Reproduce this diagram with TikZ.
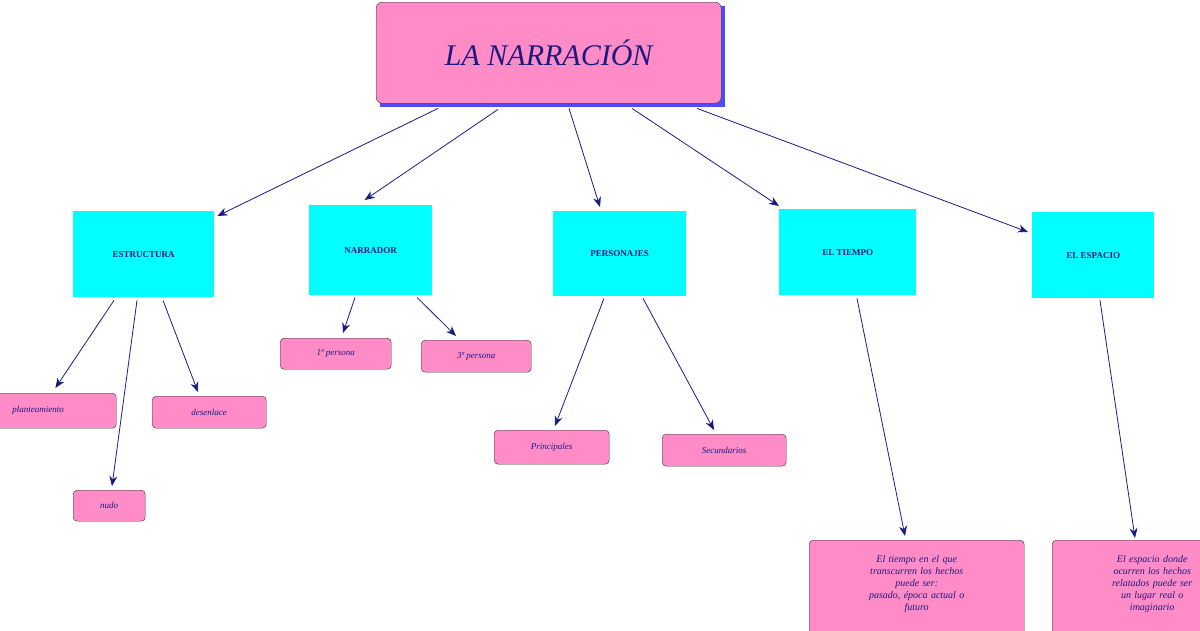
\documentclass[tikz,border=0pt]{standalone}
\usepackage{fontspec}
\setmainfont{Liberation Serif}
\usetikzlibrary{arrows.meta,calc,shadows}
\definecolor{pk}{HTML}{FF8CC6}
\definecolor{cy}{HTML}{00FFFF}
\definecolor{nv}{HTML}{1A1A80}
\tikzset{
  hdr/.style={fill=cy,text=nv,font=\bfseries\small,inner sep=0pt},
  leaf/.style={fill=pk,draw=black!80,rounded corners=4pt,text=nv,font=\itshape\small,inner sep=0pt},
  con/.style={draw=nv,thick,-{Stealth[length=10pt,width=8pt]}},
}
\begin{document}
\begin{tikzpicture}[x=1pt,y=-1pt]
\useasboundingbox (0,0) rectangle (1200,630);
\clip (0,0) rectangle (1200,630);
\fill[blue!70] (380,6) rectangle (725,107);
\node[leaf,font=\itshape\fontsize{30}{34}\selectfont,minimum width=345,minimum height=101,anchor=north west,rounded corners=6pt] (main) at (376,2) {LA NARRACIÓN};
\node[hdr,minimum width=141,minimum height=86,anchor=north west] (est) at (73,211) {ESTRUCTURA};
\node[hdr,minimum width=123,minimum height=90,anchor=north west] (nar) at (309,205) {NARRADOR};
\node[hdr,minimum width=133,minimum height=85,anchor=north west] (per) at (553,211) {PERSONAJES};
\node[hdr,minimum width=137,minimum height=86,anchor=north west] (tie) at (779,209) {EL TIEMPO};
\node[hdr,minimum width=122,minimum height=86,anchor=north west] (esp) at (1032,212) {EL ESPACIO};
\node[leaf,minimum width=156,minimum height=35,anchor=north west] (pla) at (-40,393) {planteamiento};
\node[leaf,minimum width=114,minimum height=32,anchor=north west] (des) at (152,396) {desenlace};
\node[leaf,minimum width=72,minimum height=31,anchor=north west] (nud) at (73,490) {nudo};
\node[leaf,minimum width=111,minimum height=31,anchor=north west] (p1) at (280,338) {1ª persona};
\node[leaf,minimum width=110,minimum height=32,anchor=north west] (p3) at (421,340) {3ª persona};
\node[leaf,minimum width=115,minimum height=34,anchor=north west] (pri) at (494,430) {Principales};
\node[leaf,minimum width=124,minimum height=32,anchor=north west] (sec) at (662,434) {Secundarios};
\node[leaf,minimum width=215,minimum height=110,anchor=north west,align=center,text width=210,font=\itshape\normalsize] (tt) at (809,540) {\vspace*{-28pt}\\El tiempo en el que\\transcurren los hechos\\puede ser:\\pasado, época actual o\\futuro};
\node[leaf,minimum width=200,minimum height=110,anchor=north west,align=center,text width=195,font=\itshape\normalsize] (et) at (1052,540) {\vspace*{-28pt}\\El espacio donde\\ocurren los hechos\\relatados puede ser\\un lugar real o\\imaginario};
\draw[con] ($(main.south west)+(62,5)$) -- ($(est.north east)+(3,5)$);
\draw[con] ($(main.south west)+(122,6)$) -- ($(nar.north)+(-6,-5)$);
\draw[con] ($(main.south west)+(193,5)$) -- ($(per.north west)+(47,-4)$);
\draw[con] ($(main.south west)+(256,5)$) -- ($(tie.north west)+(0,-3)$);
\draw[con] ($(main.south west)+(321,5)$) -- ($(esp.north west)+(-4,20)$);
\draw[con] ($(est.south west)+(41,3)$) -- ($(pla.north east)+(-61,-5)$);
\draw[con] ($(est.south west)+(64,3)$) -- ($(nud.north west)+(39,-4)$);
\draw[con] ($(est.south west)+(90,3)$) -- ($(des.north west)+(46,-4)$);
\draw[con] ($(nar.south west)+(46,2)$) -- ($(p1.north west)+(63,-5)$);
\draw[con] ($(nar.south west)+(108,2)$) -- ($(p3.north west)+(35,-4)$);
\draw[con] ($(per.south west)+(51,2)$) -- ($(pri.north west)+(61,-4)$);
\draw[con] ($(per.south west)+(90,2)$) -- ($(sec.north west)+(52,-4)$);
\draw[con] ($(tie.south west)+(78,3)$) -- ($(tt.north west)+(96,-4)$);
\draw[con] ($(esp.south west)+(68,2)$) -- ($(et.north west)+(83,-2)$);
\end{tikzpicture}
\end{document}
